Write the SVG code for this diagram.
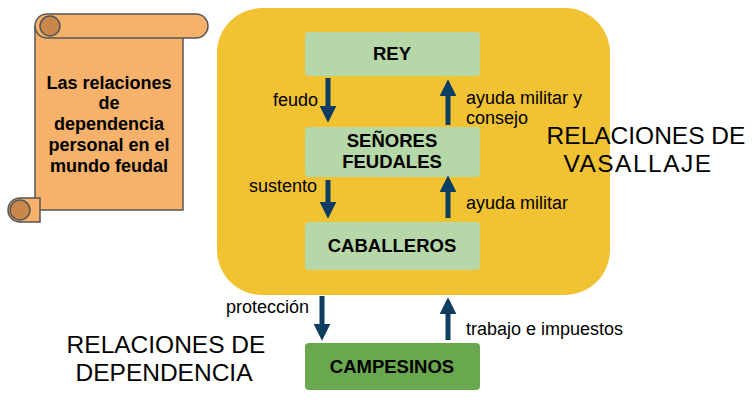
<svg xmlns="http://www.w3.org/2000/svg" width="755" height="406" viewBox="0 0 755 406">
<style>
text{font-family:"Liberation Sans",Arial,sans-serif;fill:#000}
.b{font-weight:bold;font-size:18.5px;text-anchor:middle}
.s{font-weight:bold;font-size:18px;text-anchor:middle}
.l{font-size:18px}
.big{font-size:24.5px;text-anchor:middle}
.box{fill:#b6d7a8}
.ar{stroke:#0e3d62;stroke-width:5;fill:none;marker-end:url(#ah)}
.sc{fill:#f6b26b;stroke:#555;stroke-width:1.5}
.cu{fill:#c9874a;stroke:#555;stroke-width:1.5}
</style>
<defs><marker id="ah" viewBox="0 0 10 10" refX="6" refY="5" markerWidth="3.4" markerHeight="3.4" orient="auto"><path d="M0,0L10,5L0,10z" fill="#0e3d62"/></marker></defs>
<g id="scroll">
<rect class="sc" x="35" y="26" width="148" height="184"/>
<rect class="sc" x="35" y="14" width="173" height="24" rx="12"/>
<circle class="cu" cx="50" cy="26" r="10"/>
<path class="sc" d="M20,198H40V222H20A12,12 0 0 1 20,198z"/>
<circle class="cu" cx="20" cy="210" r="10"/>
<text class="s"><tspan x="109" y="89">Las relaciones</tspan><tspan x="109" y="109">de</tspan><tspan x="109" y="130">dependencia</tspan><tspan x="109" y="151">personal en el</tspan><tspan x="109" y="172">mundo feudal</tspan></text>
</g>
<g id="vasallaje"><rect x="217" y="8" width="393" height="287" rx="45" fill="#f1c232"/></g>
<g id="rey"><rect class="box" x="305" y="32" width="175" height="44" rx="4"/><text class="b" x="392" y="60">REY</text></g>
<g id="senores"><rect class="box" x="305" y="127" width="175" height="50" rx="4"/><text class="b"><tspan x="392" y="147">SEÑORES</tspan><tspan x="392" y="168">FEUDALES</tspan></text></g>
<g id="caballeros"><rect class="box" x="305" y="222" width="175" height="48" rx="4"/><text class="b" x="392" y="252">CABALLEROS</text></g>
<g id="campesinos"><rect x="305" y="343" width="175" height="47" rx="4" fill="#6aa84f"/><text class="b" x="392" y="373">CAMPESINOS</text></g>
<g id="connectors">
<line class="ar" x1="328" y1="78" x2="328" y2="116"/>
<line class="ar" x1="448" y1="125" x2="448" y2="86"/>
<line class="ar" x1="328" y1="180" x2="328" y2="212"/>
<line class="ar" x1="448" y1="218" x2="448" y2="182"/>
<line class="ar" x1="322" y1="296" x2="322" y2="334"/>
<line class="ar" x1="448" y1="340" x2="448" y2="304"/>
<text class="l" x="273" y="106">feudo</text>
<text class="l" x="466" y="104">ayuda militar y</text>
<text class="l" x="466" y="124">consejo</text>
<text class="l" x="249" y="192">sustento</text>
<text class="l" x="466" y="209">ayuda militar</text>
<text class="l" x="226" y="313">protección</text>
<text class="l" x="466" y="335">trabajo e impuestos</text>
</g>
<text class="big" x="646" y="144">RELACIONES DE</text>
<text class="big" x="638" y="172" style="letter-spacing:1.5px">VASALLAJE</text>
<text class="big" x="166" y="353">RELACIONES DE</text>
<text class="big" x="164" y="381">DEPENDENCIA</text>
</svg>
